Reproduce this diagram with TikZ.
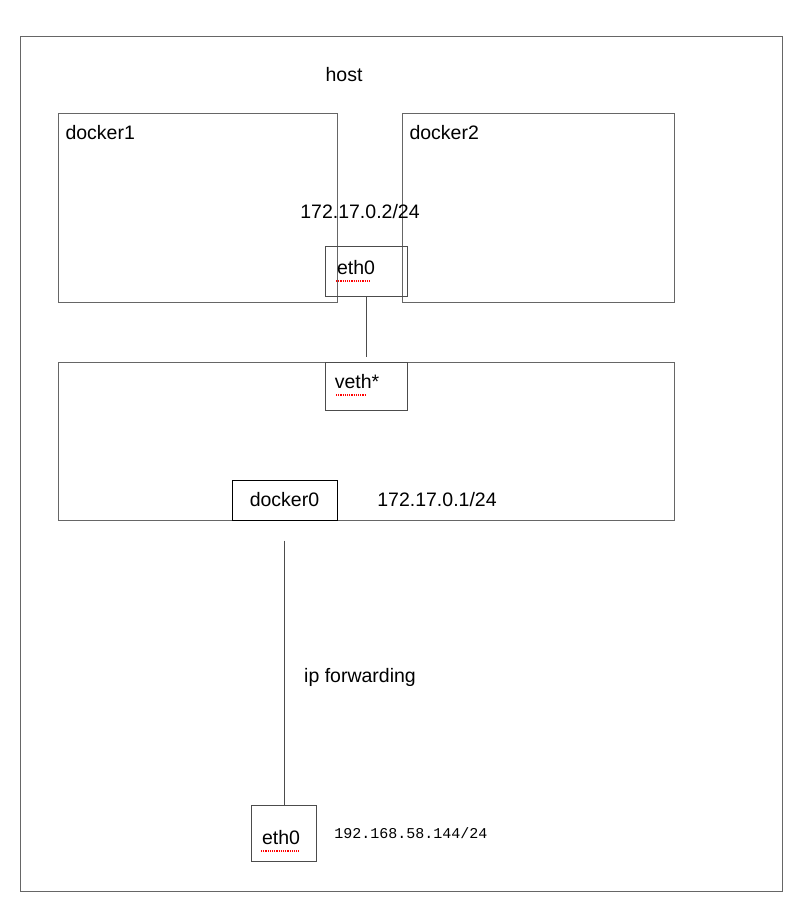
\documentclass[tikz,border=0pt]{standalone}
\usepackage{fontspec}
\setmainfont{Liberation Sans}
\newfontfamily\addrfont{Liberation Mono}
\begin{document}
\begin{tikzpicture}[x=1pt,y=-1pt,
  box/.style={draw=black!60,line width=1pt},
  port/.style={draw=black!70,line width=1pt,inner sep=0pt},
  txt/.style={font=\fontsize{19.5}{22}\selectfont},
  spell/.style={red,densely dotted,line width=1.2pt}]
\useasboundingbox (0,0) rectangle (800,913);

% host and containers
\draw[box] (20,36) rectangle (782,891);
\node[txt] (hostlbl) at (344,75) {host};
\draw[box] (58,113) rectangle (337,302);
\node[txt,anchor=west] (d1lbl) at (62,133) {docker1};
\draw[box] (402,113) rectangle (674,302);
\node[txt,anchor=west] (d2lbl) at (406,133) {docker2};
\node[txt] (ipone) at (360,212) {172.17.0.2/24};

% bridge
\draw[box] (58,362) rectangle (674,520);
\node[port,minimum width=82pt,minimum height=50pt] (eth) at (366,271) {};
\node[txt] (ethlbl) at (356,268) {eth0};
\draw[spell] (336,281) -- (370,281);
\node[port,minimum width=82pt,minimum height=48pt] (veth) at (366,386) {};
\node[txt] (vethlbl) at (357,382) {veth*};
\draw[spell] (336,395) -- (366,395);
\node[port,draw=black,minimum width=105pt,minimum height=40pt,txt] (dzero) at (284.5,500) {docker0};
\node[txt] (iptwo) at (437,500) {172.17.0.1/24};

% uplink
\node[port,minimum width=65pt,minimum height=56pt] (heth) at (283.5,833) {};
\node[txt] (hethlbl) at (281,838) {eth0};
\draw[spell] (261,851) -- (299,851);
\node[font=\addrfont\fontsize{15}{17}\selectfont] (ipthree) at (411,833) {192.168.58.144/24};
\node[txt] (fwd) at (360,677) {ip forwarding};

\draw[black!70,line width=1pt,shorten >=5pt] (eth.south) -- (veth.north);
\draw[black!70,line width=1pt,shorten <=20pt] (dzero.south) -- (dzero.south |- heth.north);
\end{tikzpicture}
\end{document}
